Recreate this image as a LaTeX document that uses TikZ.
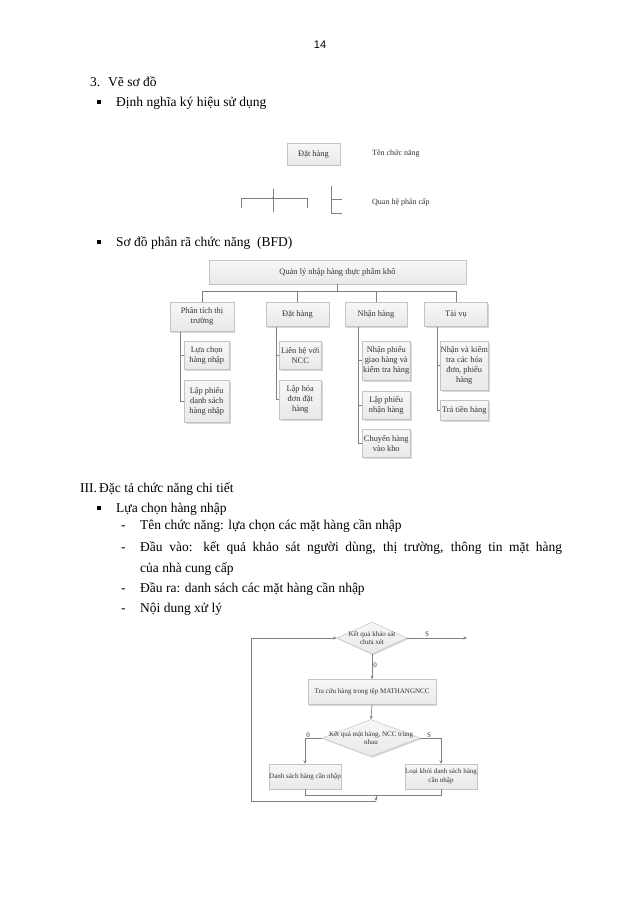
\documentclass[tikz,border=0pt]{standalone}
\usepackage{fontspec}
\setmainfont{Liberation Serif}
\newfontfamily\arialfont{Liberation Sans}
\usetikzlibrary{shapes.geometric, shadows, arrows.meta}
\definecolor{boxline}{HTML}{C4C4C4}
\definecolor{boxtop}{HTML}{F7F7F7}
\definecolor{boxbot}{HTML}{E9E9E9}
\definecolor{conn}{HTML}{808080}
\definecolor{boxtext}{HTML}{333333}
\begin{document}
\begin{tikzpicture}[x=1pt,y=-1pt,
  body/.style={anchor=base west, inner sep=0pt, font=\fontsize{13.5}{16}\selectfont},
  fbox/.style={draw=boxline, line width=0.5pt, top color=boxtop, bottom color=boxbot,
    text=boxtext, align=center, inner sep=0pt, font=\fontsize{8.4}{10}\selectfont,
    drop shadow={shadow xshift=1.3pt, shadow yshift=-1.3pt, fill=black!30, opacity=0.5}},
  flbox/.style={fbox, font=\fontsize{7}{8.6}\selectfont},
  dia/.style={diamond, draw=boxline, line width=0.5pt, top color=boxtop, bottom color=boxbot,
    inner sep=0pt, drop shadow={shadow xshift=1.3pt, shadow yshift=-1.3pt, fill=black!30, opacity=0.5}},
  dlab/.style={font=\fontsize{7}{8.6}\selectfont, text=boxtext, align=center, inner sep=0pt},
  conline/.style={draw=conn, line width=0.8pt},
  flow/.style={draw=conn, line width=0.7pt},
  flarr/.style={flow, -{Stealth[length=3.5pt,width=3pt]}},
  lbl/.style={font=\fontsize{7}{8}\selectfont, text=boxtext, inner sep=1pt},
  legtext/.style={anchor=west, inner sep=0pt, font=\fontsize{8}{9.6}\selectfont, text=boxtext}
]
\useasboundingbox[fill=white] (0,0) rectangle (638,902);

% page number
\node[anchor=base, inner sep=0pt, font=\arialfont\fontsize{11}{13}\selectfont] (pg) at (320,48) {14};

% heading 3
\node[body] (h3n) at (90,86) {3.};
\node[body] (h3) at (108,86) {Vẽ sơ đồ};
\fill (96.5,99.5) rectangle (100.5,103.5);
\node[body] (b1t) at (116,106) {Định nghĩa ký hiệu sử dụng};

% legend
\node[fbox, minimum width=53pt, minimum height=22pt] (leg) at (313.5,154) {Đặt hàng};
\node[legtext] (legt) at (372,154) {Tên chức năng};
\draw[conline] (241,208) -- (241,198) -- (307,198) -- (307,208);
\draw[conline] (273,189) -- (273,212);
\fill[conn] (273,198) circle (0.9pt);
\draw[conline] (331,186) -- (331,213) -- (342,213);
\draw[conline] (331,199) -- (342,199);
\node[legtext] (legq) at (372,202) {Quan hệ phân cấp};

% heading BFD
\fill (96.5,239.5) rectangle (100.5,243.5);
\node[body] (b2t) at (116,246) {Sơ đồ phân rã chức năng\ \ (BFD)};

% BFD
\node[fbox, minimum width=257pt, minimum height=24pt] (root) at (337.5,272) {Quản lý nhập hàng thực phẩm khô};
\node[fbox, anchor=north, minimum width=64pt, minimum height=29pt] (c1) at (202,302) {Phân tích thị\\trường};
\node[fbox, anchor=north, minimum width=63pt, minimum height=24pt] (c2) at (297.5,302) {Đặt hàng};
\node[fbox, anchor=north, minimum width=62pt, minimum height=24pt] (c3) at (376,302) {Nhận hàng};
\node[fbox, anchor=north, minimum width=63pt, minimum height=24pt] (c4) at (456,302) {Tài vụ};

\coordinate (bus) at (0,291);
\draw[conline] (c1.north) -- (c1.north |- bus) -- (c4.north |- bus) -- (c4.north);
\draw[conline] (root.south) -- (root.south |- bus);
\draw[conline] (c2.north) -- (c2.north |- bus);
\draw[conline] (c3.north) -- (c3.north |- bus);

\node[fbox, anchor=north west, minimum width=45pt, minimum height=28pt] (s11) at (184,341) {Lựa chọn\\hàng nhập};
\node[fbox, anchor=north west, minimum width=45pt, minimum height=42pt] (s12) at (184,380) {Lập phiếu\\danh sách\\hàng nhập};
\node[fbox, anchor=north west, minimum width=42pt, minimum height=28pt] (s21) at (279,341) {Liên hệ với\\NCC};
\node[fbox, anchor=north west, minimum width=42pt, minimum height=39pt] (s22) at (279,380) {Lập hóa\\đơn đặt\\hàng};
\node[fbox, anchor=north west, minimum width=48pt, minimum height=39pt] (s31) at (362,341) {Nhận phiếu\\giao hàng và\\kiểm tra hàng};
\node[fbox, anchor=north west, minimum width=48pt, minimum height=28pt] (s32) at (362,391) {Lập phiếu\\nhận hàng};
\node[fbox, anchor=north west, minimum width=48pt, minimum height=28pt] (s33) at (362,429) {Chuyển hàng\\vào kho};
\node[fbox, anchor=north west, minimum width=48pt, minimum height=49pt] (s41) at (440,341) {Nhận và kiểm\\tra các hóa\\đơn, phiếu\\hàng};
\node[fbox, anchor=north west, minimum width=48pt, minimum height=20pt] (s42) at (440,400) {Trả tiền hàng};

\draw[conline] ([xshift=-4pt]s11.west |- c1.south) |- (s11.west);
\draw[conline] ([xshift=-4pt]s12.west |- c1.south) |- (s12.west);
\draw[conline] ([xshift=-3pt]s21.west |- c2.south) |- (s21.west);
\draw[conline] ([xshift=-3pt]s22.west |- c2.south) |- (s22.west);
\draw[conline] ([xshift=-4pt]s31.west |- c3.south) |- (s31.west);
\draw[conline] ([xshift=-4pt]s32.west |- c3.south) |- (s32.west);
\draw[conline] ([xshift=-4pt]s33.west |- c3.south) |- (s33.west);
\draw[conline] ([xshift=-3pt]s41.west |- c4.south) |- (s41.west);
\draw[conline] ([xshift=-3pt]s42.west |- c4.south) |- (s42.west);

% section III
\node[body] (s3n) at (80,492) {III.};
\node[body] (s3) at (99,492) {Đặc tả chức năng chi tiết};
\fill (96.5,505.5) rectangle (100.5,509.5);
\node[body] (b3t) at (116,512) {Lựa chọn hàng nhập};
\node[body] (d1) at (121,529) {-};
\node[body] (t1) at (140,529) {Tên chức năng: lựa chọn các mặt hàng cần nhập};
\node[body] (d2) at (121,551) {-};
\node[body] (t2) at (140,551) {\makebox[422pt][s]{Đầu vào: kết quả khảo sát người dùng, thị trường, thông tin mặt hàng}};
\node[body] (t2b) at (140,572) {của nhà cung cấp};
\node[body] (d3) at (121,592) {-};
\node[body] (t3) at (140,592) {Đầu ra: danh sách các mặt hàng cần nhập};
\node[body] (d4) at (121,612) {-};
\node[body] (t4) at (140,612) {Nội dung xử lý};

% flowchart
\node[dia, minimum width=70pt, minimum height=32pt,
  label={[dlab]center:Kết quả khảo sát\\chưa xét}] (q1) at (372,638) {};
\node[flbox, minimum width=128pt, minimum height=25pt] (r1) at (372,692) {Tra cứu hàng trong tệp MATHANGNCC};
\node[dia, minimum width=98pt, minimum height=37pt,
  label={[dlab]center:Kết quả mặt hàng, NCC trùng\\nhau}] (q2) at (371,738) {};
\node[flbox, minimum width=72pt, minimum height=25pt] (e1) at (305,776.5) {Danh sách hàng cần nhập};
\node[flbox, minimum width=72pt, minimum height=25pt] (e2) at (441,776.5) {Loại khỏi danh sách hàng\\cần nhập};

\coordinate (sout) at (467,638);
\coordinate (mj) at (376,795);
\coordinate (lp) at (376,801);
\coordinate (lc) at (251,638);

\draw[flarr] (q1.east) -- node[lbl, above, pos=0.33] {S} (sout);
\draw[flarr] (q1.south) -- node[lbl, right, pos=0.45] {0} (r1.north);
\draw[flarr] (r1.south) -- (q2.north);
\draw[flarr] (q2.west) -| node[lbl, pos=0.5, above, xshift=3pt, yshift=-1pt] {0} (e1.north);
\draw[flarr] (q2.east) -| node[lbl, pos=0.5, above, xshift=-12pt, yshift=-1pt] {S} (e2.north);
\draw[flow] (e1.south) |- (mj);
\draw[flow] (e2.south) |- (mj);
\draw[flarr] (mj) -- (lp);
\draw[flow] (lp) -| (lc);
\draw[flarr] (lc) -- (q1.west);
\end{tikzpicture}
\end{document}
